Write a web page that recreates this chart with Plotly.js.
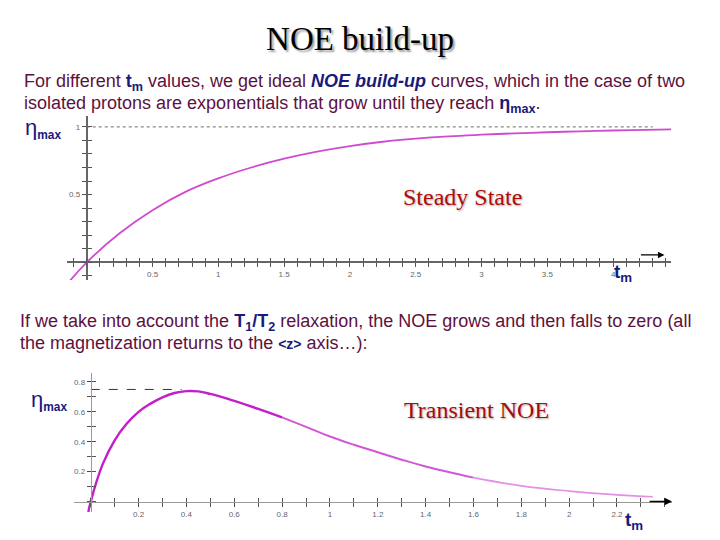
<!DOCTYPE html>
<html>
<head>
<meta charset="utf-8">
<script src="https://cdn.plot.ly/plotly-3.0.1.min.js"></script>
<style>
  html, body { margin: 0; padding: 0; background: #fff; }
  #plot { width: 720px; height: 540px; }
</style>
</head>
<body>
<div id="plot"></div>
<script>
// steady state build-up curve
const steadyT   = [-0.14, 0, 0.25, 0.5, 0.75, 1, 1.25, 1.5, 1.75, 2, 2.25, 2.5, 2.75, 3, 3.25, 3.5, 3.75, 4, 4.25, 4.44];
const steadyEta = [-0.15, 0, 0.215, 0.385, 0.52, 0.62, 0.70, 0.765, 0.817, 0.858, 0.89, 0.913, 0.93, 0.942, 0.952, 0.96, 0.967, 0.973, 0.978, 0.981];

// transient NOE curve
const transT   = [-0.01, 0, 0.05, 0.1, 0.15, 0.2, 0.25, 0.3, 0.35, 0.4, 0.45, 0.5, 0.6, 0.7, 0.8, 0.9, 1.0, 1.1, 1.2, 1.3, 1.4, 1.6, 1.8, 2.0, 2.2, 2.35];
const transEta = [-0.07, 0, 0.25, 0.41, 0.52, 0.60, 0.655, 0.697, 0.726, 0.739, 0.737, 0.72, 0.673, 0.62, 0.563, 0.50, 0.435, 0.38, 0.33, 0.28, 0.235, 0.16, 0.105, 0.07, 0.045, 0.032];

// eta_max guide lines
const steadyMaxT   = [0, 4.3];
const steadyMaxEta = [1, 1];
const transMaxT    = [0, 0.38];
const transMaxEta  = [0.75, 0.75];

// tick labels
const steadyXTicks = [0.5, 1, 1.5, 2, 2.5, 3, 3.5, 4];
const steadyYTicks = [0.5, 1];
const transXTicks  = [0.2, 0.4, 0.6, 0.8, 1, 1.2, 1.4, 1.6, 1.8, 2, 2.2];
const transYTicks  = [0.2, 0.4, 0.6, 0.8];

// page helpers: pixel -> paper
const px = v => v / 720;
const py = v => 1 - v / 540;
const zeroPos = (dom, rng) => dom[0] + (0 - rng[0]) / (rng[1] - rng[0]) * (dom[1] - dom[0]);

const topXDom = [px(67), px(671)], topXRange = [-0.15, 4.44];
const topYDom = [py(280), py(116)], topYRange = [-0.13, 1.08];
const botXDom = [px(74), px(672)], botXRange = [-0.07, 2.43];
const botYDom = [py(512), py(373)], botYRange = [-0.07, 0.86];

const navy = '#1a1a7a';
const txt = '#5e1040';

function axis(dom, rng, pos, vals, minorStep, opts) {
  return Object.assign({
    domain: dom, range: rng, anchor: 'free', position: pos,
    showgrid: false, zeroline: false, fixedrange: true,
    tickmode: 'array', tickvals: vals, ticks: 'outside', ticklen: 4,
    tickcolor: '#555', tickwidth: 1,
    tickfont: {family: 'Liberation Sans', size: 8, color: '#666'},
    minor: {tickmode: 'linear', tick0: 0, dtick: minorStep, ticks: 'outside', ticklen: 4, tickcolor: '#555', tickwidth: 1}
  }, opts);
}

const topX0 = zeroPos(topYDom, topYRange), topY0 = zeroPos(topXDom, topXRange);
const botX0 = zeroPos(botYDom, botYRange), botY0 = zeroPos(botXDom, botXRange);

// the transient curve fades from strong magenta to pale pink
function piece(lo, hi, color, width) {
  const idx = transT.map((t, i) => i).filter(i => transT[i] >= lo && transT[i] <= hi);
  return {x: idx.map(i => transT[i]), y: idx.map(i => transEta[i]), xaxis: 'x2', yaxis: 'y2', mode: 'lines',
          line: {color: color, width: width, shape: 'spline', smoothing: 1.2}, hoverinfo: 'skip'};
}

let data = [
  {x: steadyT, y: steadyEta, xaxis: 'x', yaxis: 'y', mode: 'lines',
   line: {color: '#d04ad0', width: 1.8, shape: 'spline', smoothing: 1.2}, hoverinfo: 'skip'},
  {x: steadyMaxT, y: steadyMaxEta, xaxis: 'x3', yaxis: 'y3', mode: 'lines',
   line: {color: '#888', width: 1.2, dash: 'dot'}, hoverinfo: 'skip'},
  piece(-1, 0.8, '#c21fc9', 2.4),
  piece(0.8, 1.6, '#d257d6', 2),
  piece(1.6, 3, '#e190e4', 1.7),
  {x: transMaxT, y: transMaxEta, xaxis: 'x4', yaxis: 'y4', mode: 'lines',
   line: {color: '#333', width: 1, dash: 'dash'}, hoverinfo: 'skip'}
];

let lineTop = {showline: true, linecolor: '#666', linewidth: 2};
let lineBot = {showline: true, linecolor: '#999', linewidth: 1.5};
let noLab = {showline: false, showticklabels: false};

function note(x, y, text, font, anchor) {
  return {xref: 'paper', yref: 'paper', x: px(x), y: py(y), xanchor: anchor || 'left', yanchor: 'middle',
          showarrow: false, text: text, font: font};
}
const para = {family: 'Liberation Sans', size: 18, color: txt};
const eta = "<span style='font-size:22px'>η</span><sub><b>max</b></sub>";

let layout = {
  width: 720, height: 540,
  margin: {l: 0, r: 0, t: 0, b: 0},
  paper_bgcolor: '#fff', plot_bgcolor: 'rgba(0,0,0,0)',
  showlegend: false,
  title: {
    text: 'NOE build-up', x: 0.5, xanchor: 'center', y: py(38), yanchor: 'middle',
    font: {family: 'Liberation Serif', size: 33, color: '#000', shadow: '2px 2px 2px #999'}
  },
  xaxis:  axis(topXDom, topXRange, topX0, steadyXTicks, 0.1, lineTop),
  yaxis:  axis(topYDom, topYRange, topY0, steadyYTicks, 0.1, lineTop),
  xaxis3: axis(topXDom, topXRange, topX0, steadyXTicks, 0.1, Object.assign({overlaying: 'x', side: 'top'}, noLab)),
  yaxis3: axis(topYDom, topYRange, topY0, steadyYTicks, 0.1, Object.assign({overlaying: 'y', side: 'right'}, noLab)),
  xaxis2: axis(botXDom, botXRange, botX0, transXTicks, 0.1, Object.assign({tickcolor: '#444'}, lineBot)),
  yaxis2: axis(botYDom, botYRange, botY0, transYTicks, 0.1, Object.assign({tickcolor: '#444'}, lineBot)),
  xaxis4: axis(botXDom, botXRange, botX0, transXTicks, 0.1, Object.assign({overlaying: 'x2', side: 'top'}, noLab)),
  yaxis4: axis(botYDom, botYRange, botY0, transYTicks, 0.1, Object.assign({overlaying: 'y2', side: 'right'}, noLab)),
  annotations: [
    note(22, 83, "For different <b><span style='color:" + navy + "'>t<sub>m</sub></span></b> values, we get ideal <b><i><span style='color:" + navy + "'>NOE build-up</span></i></b> curves, which in the case of two", para),
    note(22, 104, "isolated protons are exponentials that grow until they reach <b><span style='color:" + navy + "'>η<sub>max</sub></span></b>.", para),
    note(18, 322, "If we take into account the <b><span style='color:" + navy + "'>T<sub>1</sub>/T<sub>2</sub></span></b> relaxation, the NOE grows and then falls to zero (all", para),
    note(18, 343, "the magnetization returns to the <b><span style='color:" + navy + ";font-size:14px'>&lt;z&gt;</span></b> axis…):", para),
    note(23, 128, eta, {family: 'Liberation Sans', size: 17, color: navy}),
    note(29, 400, eta, {family: 'Liberation Sans', size: 17, color: navy}),
    note(612, 273, "<b>t<sub>m</sub></b>", {family: 'Liberation Sans', size: 19, color: navy}),
    note(623, 521, "<b>t<sub>m</sub></b>", {family: 'Liberation Sans', size: 19, color: navy}),
    note(462, 197, 'Steady State', {family: 'Liberation Serif', size: 24, color: '#b00c0c', shadow: '1px 1px 2px #aaa'}, 'center'),
    note(476, 410, 'Transient NOE', {family: 'Liberation Serif', size: 24, color: '#a80c0c', shadow: '1px 1px 2px #aaa'}, 'center'),
    // axis arrows
    {xref: 'x', yref: 'y', axref: 'x', ayref: 'y', x: 4.39, y: 0.055, ax: 4.2, ay: 0.055, text: '',
     showarrow: true, arrowhead: 2, arrowsize: 1, arrowwidth: 1.3, arrowcolor: '#000'},
    {xref: 'x2', yref: 'y2', axref: 'x2', ayref: 'y2', x: 2.43, y: 0, ax: 2.33, ay: 0, text: '',
     showarrow: true, arrowhead: 2, arrowsize: 1, arrowwidth: 1.5, arrowcolor: '#000'}
  ]
};

Plotly.newPlot('plot', data, layout, {staticPlot: true});
</script>
</body>
</html>
